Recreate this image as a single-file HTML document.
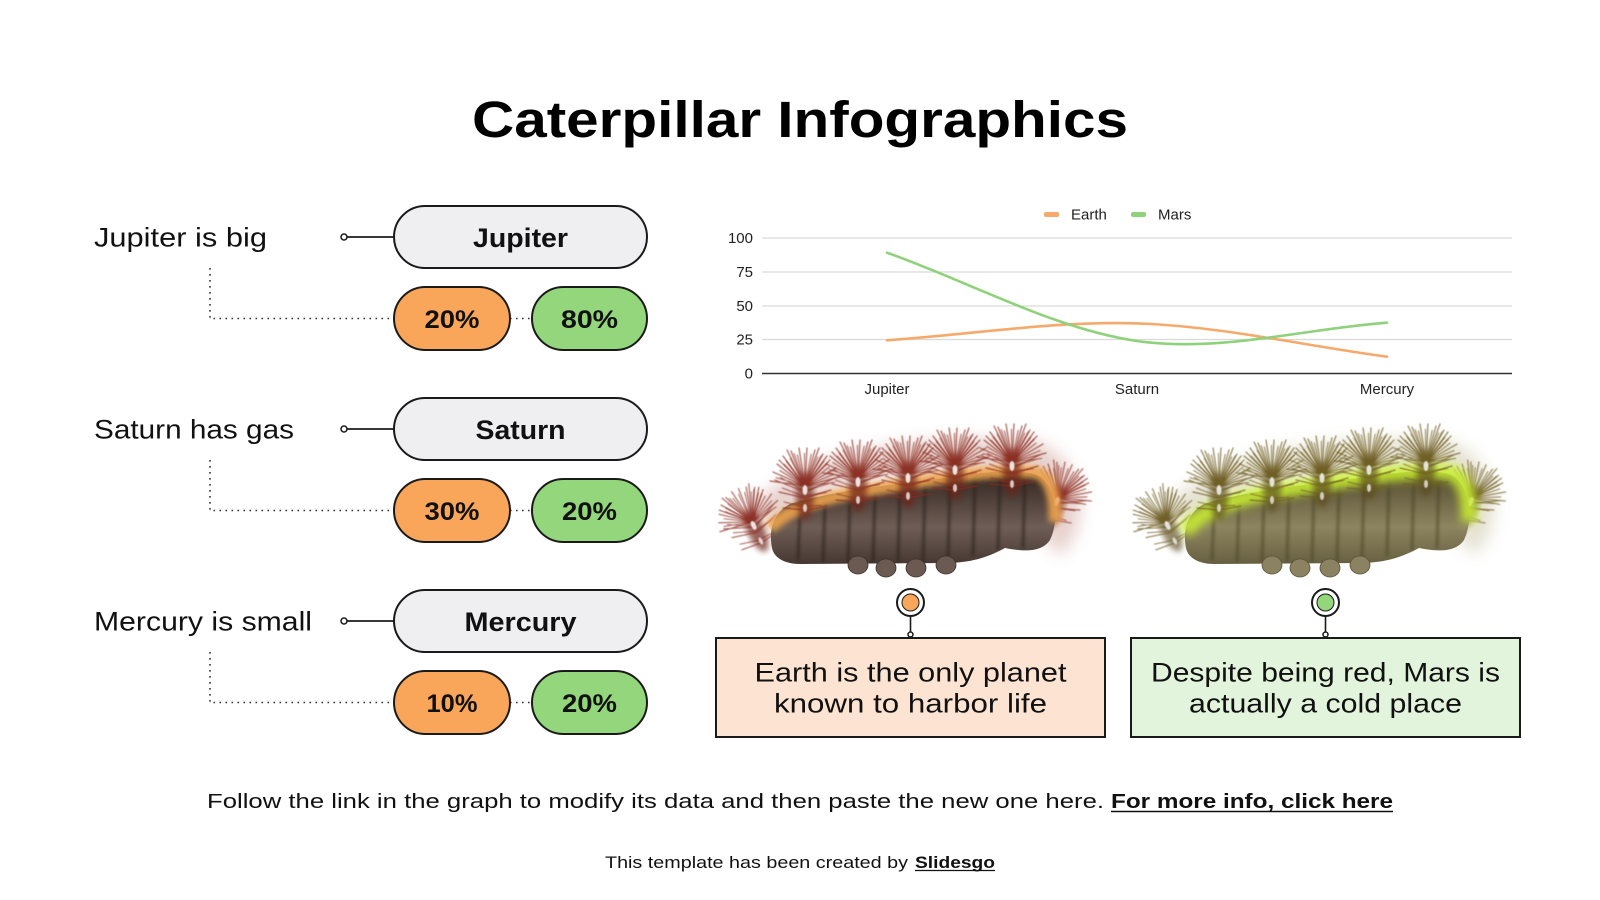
<!DOCTYPE html>
<html><head><meta charset="utf-8"><style>
html,body{margin:0;padding:0;background:#fff;}
svg{display:block;}
text{font-family:"Liberation Sans",Arial,sans-serif;fill:#111;}
</style></head><body>
<svg width="1600" height="900" viewBox="0 0 1600 900" xmlns="http://www.w3.org/2000/svg">
<defs>
<filter id="b3" x="-20%" y="-60%" width="140%" height="220%"><feGaussianBlur stdDeviation="3"/></filter>
<filter id="b4" x="-20%" y="-60%" width="140%" height="220%"><feGaussianBlur stdDeviation="4.5"/></filter>
<filter id="b8" x="-30%" y="-80%" width="160%" height="260%"><feGaussianBlur stdDeviation="8"/></filter>
<filter id="b1" x="-20%" y="-20%" width="140%" height="140%"><feGaussianBlur stdDeviation="1.2"/></filter>
<filter id="b06" x="-20%" y="-20%" width="140%" height="140%"><feGaussianBlur stdDeviation="0.6"/></filter>
<linearGradient id="gE" x1="0" y1="0" x2="0" y2="1">
<stop offset="0" stop-color="#33261f"/><stop offset="0.25" stop-color="#4a3b35"/><stop offset="0.6" stop-color="#6f5e56"/><stop offset="1" stop-color="#463832"/>
</linearGradient>
<linearGradient id="gM" x1="0" y1="0" x2="0" y2="1">
<stop offset="0" stop-color="#57502f"/><stop offset="0.25" stop-color="#6a6242"/><stop offset="0.6" stop-color="#8d8560"/><stop offset="1" stop-color="#676040"/>
</linearGradient>
<g id="hE" fill="none" stroke="#8c2d22" stroke-width="1.2" stroke-linecap="round" opacity="0.75" filter="url(#b06)">
<path d="M0 0l-32 -14M0 0l-28 -22M0 0l-22 -30M0 0l-14 -35M0 0l-6 -38M0 0l2 -38M0 0l10 -36M0 0l18 -32M0 0l25 -26M0 0l31 -18M0 0l34 -9M0 0l-35 -5M0 12l-26 -6M0 12l26 -8M0 24l-22 -2M0 24l22 -4M0 0l-18 -36M0 0l14 -38M0 0l-26 -26M0 0l22 -30M0 6l-30 -12M0 6l30 -14"/>
</g>
<g id="hM" fill="none" stroke="#6e5d22" stroke-width="1.2" stroke-linecap="round" opacity="0.75" filter="url(#b06)">
<path d="M0 0l-32 -14M0 0l-28 -22M0 0l-22 -30M0 0l-14 -35M0 0l-6 -38M0 0l2 -38M0 0l10 -36M0 0l18 -32M0 0l25 -26M0 0l31 -18M0 0l34 -9M0 0l-35 -5M0 12l-26 -6M0 12l26 -8M0 24l-22 -2M0 24l22 -4M0 0l-18 -36M0 0l14 -38M0 0l-26 -26M0 0l22 -30M0 6l-30 -12M0 6l30 -14"/>
</g>
<g id="tE">
<ellipse cx="0" cy="10" rx="9" ry="24" fill="#6e2018" filter="url(#b3)" opacity="0.7"/>
<use href="#hE"/>
<use href="#hE" transform="rotate(8) scale(0.85)"/>
<ellipse cx="0" cy="4" rx="2.5" ry="5" fill="#fff" opacity="0.85" filter="url(#b06)"/>
<ellipse cx="0" cy="22" rx="2" ry="4" fill="#fff" opacity="0.75" filter="url(#b06)"/>
</g>
<g id="tM">
<ellipse cx="0" cy="10" rx="9" ry="24" fill="#5a4a1a" filter="url(#b3)" opacity="0.65"/>
<use href="#hM"/>
<use href="#hM" transform="rotate(8) scale(0.85)"/>
<ellipse cx="0" cy="4" rx="2.5" ry="5" fill="#fff" opacity="0.8" filter="url(#b06)"/>
<ellipse cx="0" cy="22" rx="2" ry="4" fill="#fff" opacity="0.7" filter="url(#b06)"/>
</g>
</defs>

<!-- Title -->
<text x="472" y="137" font-size="51" font-weight="700" textLength="656" lengthAdjust="spacingAndGlyphs" style="fill:#000">Caterpillar Infographics</text>

<!-- Row 1 -->
<text x="94" y="246.5" font-size="27" textLength="173" lengthAdjust="spacingAndGlyphs">Jupiter is big</text>
<line x1="347" y1="237" x2="394" y2="237" stroke="#1a1a1a" stroke-width="1.8"/>
<circle cx="344" cy="237" r="3" fill="#fff" stroke="#1a1a1a" stroke-width="1.5"/>
<rect x="394" y="206" width="253" height="62" rx="31" fill="#efeef1" stroke="#1a1a1a" stroke-width="2"/>
<text x="520.5" y="247" font-size="27" font-weight="700" text-anchor="middle" textLength="95" lengthAdjust="spacingAndGlyphs">Jupiter</text>
<path d="M210 268 V318.5 H394 M510 318.5 H532" fill="none" stroke="#333" stroke-width="1.6" stroke-dasharray="1.6 4.4"/>
<rect x="394" y="287" width="116" height="63" rx="31.5" fill="#f9a65b" stroke="#1a1a1a" stroke-width="2"/>
<rect x="532" y="287" width="115" height="63" rx="31.5" fill="#93d67b" stroke="#1a1a1a" stroke-width="2"/>
<text x="452" y="328" font-size="25" font-weight="700" text-anchor="middle" textLength="55" lengthAdjust="spacingAndGlyphs">20%</text>
<text x="589.5" y="328" font-size="25" font-weight="700" text-anchor="middle" textLength="57" lengthAdjust="spacingAndGlyphs">80%</text>

<!-- Row 2 -->
<text x="94" y="438.5" font-size="27" textLength="200" lengthAdjust="spacingAndGlyphs">Saturn has gas</text>
<line x1="347" y1="429" x2="394" y2="429" stroke="#1a1a1a" stroke-width="1.8"/>
<circle cx="344" cy="429" r="3" fill="#fff" stroke="#1a1a1a" stroke-width="1.5"/>
<rect x="394" y="398" width="253" height="62" rx="31" fill="#efeef1" stroke="#1a1a1a" stroke-width="2"/>
<text x="520.5" y="439" font-size="27" font-weight="700" text-anchor="middle" textLength="90" lengthAdjust="spacingAndGlyphs">Saturn</text>
<path d="M210 460 V510.5 H394 M510 510.5 H532" fill="none" stroke="#333" stroke-width="1.6" stroke-dasharray="1.6 4.4"/>
<rect x="394" y="479" width="116" height="63" rx="31.5" fill="#f9a65b" stroke="#1a1a1a" stroke-width="2"/>
<rect x="532" y="479" width="115" height="63" rx="31.5" fill="#93d67b" stroke="#1a1a1a" stroke-width="2"/>
<text x="452" y="520" font-size="25" font-weight="700" text-anchor="middle" textLength="55" lengthAdjust="spacingAndGlyphs">30%</text>
<text x="589.5" y="520" font-size="25" font-weight="700" text-anchor="middle" textLength="55" lengthAdjust="spacingAndGlyphs">20%</text>

<!-- Row 3 -->
<text x="94" y="630.5" font-size="27" textLength="218" lengthAdjust="spacingAndGlyphs">Mercury is small</text>
<line x1="347" y1="621" x2="394" y2="621" stroke="#1a1a1a" stroke-width="1.8"/>
<circle cx="344" cy="621" r="3" fill="#fff" stroke="#1a1a1a" stroke-width="1.5"/>
<rect x="394" y="590" width="253" height="62" rx="31" fill="#efeef1" stroke="#1a1a1a" stroke-width="2"/>
<text x="520.5" y="631" font-size="27" font-weight="700" text-anchor="middle" textLength="112" lengthAdjust="spacingAndGlyphs">Mercury</text>
<path d="M210 652 V702.5 H394 M510 702.5 H532" fill="none" stroke="#333" stroke-width="1.6" stroke-dasharray="1.6 4.4"/>
<rect x="394" y="671" width="116" height="63" rx="31.5" fill="#f9a65b" stroke="#1a1a1a" stroke-width="2"/>
<rect x="532" y="671" width="115" height="63" rx="31.5" fill="#93d67b" stroke="#1a1a1a" stroke-width="2"/>
<text x="452" y="712" font-size="25" font-weight="700" text-anchor="middle" textLength="51" lengthAdjust="spacingAndGlyphs">10%</text>
<text x="589.5" y="712" font-size="25" font-weight="700" text-anchor="middle" textLength="55" lengthAdjust="spacingAndGlyphs">20%</text>

<!-- Chart -->
<g stroke="#d9d9d9" stroke-width="1.2">
<line x1="762" y1="238" x2="1512" y2="238"/>
<line x1="762" y1="272" x2="1512" y2="272"/>
<line x1="762" y1="306" x2="1512" y2="306"/>
<line x1="762" y1="339.5" x2="1512" y2="339.5"/>
</g>
<line x1="762" y1="373.5" x2="1512" y2="373.5" stroke="#333" stroke-width="1.4"/>
<g font-size="15" text-anchor="end">
<text x="753" y="243" style="fill:#222">100</text>
<text x="753" y="277" style="fill:#222">75</text>
<text x="753" y="311" style="fill:#222">50</text>
<text x="753" y="344.5" style="fill:#222">25</text>
<text x="753" y="378.5" style="fill:#222">0</text>
</g>
<g font-size="15" text-anchor="middle">
<text x="887" y="394" style="fill:#222">Jupiter</text>
<text x="1137" y="394" style="fill:#222">Saturn</text>
<text x="1387" y="394" style="fill:#222">Mercury</text>
</g>
<rect x="1044" y="212" width="15" height="5" rx="2" fill="#f5a96b"/>
<text x="1071" y="219.5" font-size="15" style="fill:#222">Earth</text>
<rect x="1131" y="212" width="15" height="5" rx="2" fill="#8fd27b"/>
<text x="1158" y="219.5" font-size="15" style="fill:#222">Mars</text>
<path d="M887,340.3 C970,334.7 1054,320.7 1137,323.4 C1220,326.1 1303.7,345.6 1387,356.7" fill="none" stroke="#f5a96b" stroke-width="2.6" stroke-linecap="round"/>
<path d="M887,252.7 C970,282 1054,329 1137,341 C1220,352.7 1303.7,328.8 1387,322.7" fill="none" stroke="#8fd27b" stroke-width="2.6" stroke-linecap="round"/>

<!-- Earth caterpillar -->
<g>
<path d="M 760 520 C 800 470, 900 450, 1030 455 C 1070 470, 1075 520, 1050 545" fill="none" stroke="#a0483a" stroke-width="30" opacity="0.25" filter="url(#b8)"/>
<use href="#tE" transform="translate(752,522) rotate(-25) scale(0.95)"/>
<use href="#tE" transform="translate(1058,498) rotate(20) scale(0.95)"/>
<path d="M 772 548 C 768 528, 775 512, 790 504 C 830 492, 880 486, 930 480 C 970 474, 1010 468, 1035 474 C 1056 482, 1060 520, 1050 540 C 1042 552, 1025 552, 1005 548 C 990 556, 975 562, 950 563 L 800 564 C 785 564, 774 558, 772 548 Z" fill="url(#gE)"/>
<g stroke="#2a201c" stroke-width="3.5" opacity="0.55" filter="url(#b1)">
<line x1="800" y1="510" x2="798" y2="560"/><line x1="825" y1="502" x2="823" y2="562"/><line x1="850" y1="497" x2="848" y2="562"/><line x1="875" y1="494" x2="873" y2="562"/><line x1="900" y1="490" x2="898" y2="562"/><line x1="925" y1="486" x2="923" y2="562"/><line x1="950" y1="482" x2="948" y2="560"/><line x1="975" y1="478" x2="973" y2="556"/><line x1="1000" y1="474" x2="998" y2="550"/><line x1="1025" y1="474" x2="1023" y2="548"/>
</g>
<g fill="#6a5a52" stroke="#3e312c" stroke-width="0.8">
<ellipse cx="858" cy="565" rx="10" ry="9"/><ellipse cx="886" cy="568" rx="10" ry="9"/><ellipse cx="916" cy="568" rx="10" ry="9"/><ellipse cx="946" cy="565" rx="10" ry="9"/>
</g>
<path d="M 770 528 C 790 506, 830 496, 880 488 C 930 480, 990 468, 1035 472 C 1050 476, 1056 496, 1055 522" fill="none" stroke="#eba24e" stroke-width="13" filter="url(#b3)" opacity="0.9"/>
<use href="#tE" transform="translate(805,486)"/>
<use href="#tE" transform="translate(858,478)"/>
<use href="#tE" transform="translate(908,474)"/>
<use href="#tE" transform="translate(955,466)"/>
<use href="#tE" transform="translate(1012,462)"/>
</g>

<!-- Mars caterpillar -->
<g transform="translate(414,0)">
<path d="M 760 520 C 800 470, 900 450, 1030 455 C 1070 470, 1075 520, 1050 545" fill="none" stroke="#8a7a35" stroke-width="30" opacity="0.22" filter="url(#b8)"/>
<use href="#tM" transform="translate(752,522) rotate(-25) scale(0.95)"/>
<use href="#tM" transform="translate(1058,498) rotate(20) scale(0.95)"/>
<path d="M 772 548 C 768 528, 775 512, 790 504 C 830 492, 880 486, 930 480 C 970 474, 1010 468, 1035 474 C 1056 482, 1060 520, 1050 540 C 1042 552, 1025 552, 1005 548 C 990 556, 975 562, 950 563 L 800 564 C 785 564, 774 558, 772 548 Z" fill="url(#gM)"/>
<g stroke="#4a4428" stroke-width="3.5" opacity="0.5" filter="url(#b1)">
<line x1="800" y1="510" x2="798" y2="560"/><line x1="825" y1="502" x2="823" y2="562"/><line x1="850" y1="497" x2="848" y2="562"/><line x1="875" y1="494" x2="873" y2="562"/><line x1="900" y1="490" x2="898" y2="562"/><line x1="925" y1="486" x2="923" y2="562"/><line x1="950" y1="482" x2="948" y2="560"/><line x1="975" y1="478" x2="973" y2="556"/><line x1="1000" y1="474" x2="998" y2="550"/><line x1="1025" y1="474" x2="1023" y2="548"/>
</g>
<g fill="#8a8260" stroke="#5a5336" stroke-width="0.8">
<ellipse cx="858" cy="565" rx="10" ry="9"/><ellipse cx="886" cy="568" rx="10" ry="9"/><ellipse cx="916" cy="568" rx="10" ry="9"/><ellipse cx="946" cy="565" rx="10" ry="9"/>
</g>
<path d="M 770 532 C 790 506, 830 496, 880 488 C 930 480, 990 468, 1035 472 C 1050 476, 1056 496, 1055 522" fill="none" stroke="#c8ec32" stroke-width="16" filter="url(#b4)" opacity="0.9"/>
<use href="#tM" transform="translate(805,486)"/>
<use href="#tM" transform="translate(858,478)"/>
<use href="#tM" transform="translate(908,474)"/>
<use href="#tM" transform="translate(955,466)"/>
<use href="#tM" transform="translate(1012,462)"/>
</g>

<!-- Pins & boxes -->
<line x1="910.5" y1="616" x2="910.5" y2="632" stroke="#1a1a1a" stroke-width="1.6"/>
<circle cx="910.5" cy="602.5" r="13.5" fill="#fff" stroke="#1a1a1a" stroke-width="2"/>
<circle cx="910.5" cy="602.5" r="8.5" fill="#f9a65b" stroke="#1a1a1a" stroke-width="1"/>
<circle cx="910.5" cy="634.5" r="2.5" fill="#fff" stroke="#1a1a1a" stroke-width="1.5"/>
<rect x="716" y="638" width="389" height="99" fill="#fde4d2" stroke="#1a1a1a" stroke-width="2"/>
<text x="910.5" y="681.5" font-size="27" text-anchor="middle" textLength="312" lengthAdjust="spacingAndGlyphs">Earth is the only planet</text>
<text x="910.5" y="712.5" font-size="27" text-anchor="middle" textLength="273" lengthAdjust="spacingAndGlyphs">known to harbor life</text>

<line x1="1325.5" y1="616" x2="1325.5" y2="632" stroke="#1a1a1a" stroke-width="1.6"/>
<circle cx="1325.5" cy="602.5" r="13.5" fill="#fff" stroke="#1a1a1a" stroke-width="2"/>
<circle cx="1325.5" cy="602.5" r="8.5" fill="#93d67b" stroke="#1a1a1a" stroke-width="1"/>
<circle cx="1325.5" cy="634.5" r="2.5" fill="#fff" stroke="#1a1a1a" stroke-width="1.5"/>
<rect x="1131" y="638" width="389" height="99" fill="#e3f4dd" stroke="#1a1a1a" stroke-width="2"/>
<text x="1325.5" y="681.5" font-size="27" text-anchor="middle" textLength="349" lengthAdjust="spacingAndGlyphs">Despite being red, Mars is</text>
<text x="1325.5" y="712.5" font-size="27" text-anchor="middle" textLength="273" lengthAdjust="spacingAndGlyphs">actually a cold place</text>

<!-- Footer -->
<text x="207" y="808" font-size="20.5" textLength="897" lengthAdjust="spacingAndGlyphs">Follow the link in the graph to modify its data and then paste the new one here.</text>
<text x="1111" y="808" font-size="20.5" font-weight="700" textLength="282" lengthAdjust="spacingAndGlyphs">For more info, click here</text>
<line x1="1111" y1="811.5" x2="1393" y2="811.5" stroke="#111" stroke-width="1.6"/>
<text x="605" y="868" font-size="16.5" textLength="303" lengthAdjust="spacingAndGlyphs">This template has been created by</text>
<text x="915" y="868" font-size="16.5" font-weight="700" textLength="80" lengthAdjust="spacingAndGlyphs">Slidesgo</text>
<line x1="915" y1="870.5" x2="995" y2="870.5" stroke="#111" stroke-width="1.3"/>
</svg>
</body></html>
